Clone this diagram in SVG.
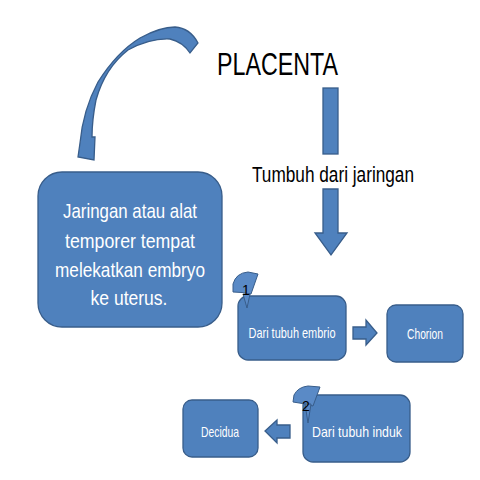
<svg xmlns="http://www.w3.org/2000/svg" width="480" height="480" viewBox="0 0 480 480">
<style>
.shp{fill:#4F81BD;stroke:#385D8A;stroke-width:1.3}
.tab{fill:#5A8AC6;stroke:#385D8A;stroke-width:1}
.wt{fill:#ffffff;font-family:"Liberation Sans",Arial,sans-serif;text-anchor:middle}
.bk{fill:#000000;font-family:"Liberation Sans",Arial,sans-serif}
</style>
<rect width="480" height="480" fill="#ffffff"/>
<g id="title">
<text class="bk" x="217" y="75" font-size="32" textLength="121" lengthAdjust="spacingAndGlyphs">PLACENTA</text>
</g>
<g id="label-tumbuh">
<text class="bk" x="252" y="182" font-size="22" textLength="162" lengthAdjust="spacingAndGlyphs">Tumbuh dari jaringan</text>
</g>
<g id="definition">
<rect class="shp" x="38" y="172" width="184" height="155" rx="24"/>
<text class="wt" x="130" y="218" font-size="21" textLength="134" lengthAdjust="spacingAndGlyphs">Jaringan atau alat</text>
<text class="wt" x="130" y="248" font-size="21" textLength="130" lengthAdjust="spacingAndGlyphs">temporer tempat</text>
<text class="wt" x="130" y="277" font-size="21" textLength="150" lengthAdjust="spacingAndGlyphs">melekatkan embryo</text>
<text class="wt" x="129" y="305" font-size="21" textLength="77" lengthAdjust="spacingAndGlyphs">ke uterus.</text>
</g>
<g id="embrio">
<rect class="shp" x="238" y="296" width="108" height="64" rx="10"/>
<text class="wt" x="292" y="338" font-size="15" textLength="87" lengthAdjust="spacingAndGlyphs">Dari tubuh embrio</text>
<path class="tab" d="M233,292 L233,284 Q236,273 248,272 L258,274 L251,294 Q242,292 233,292 Z"/>
<path class="tab" d="M243,294 L247,308 L250,294 Z"/>
<text fill="#000" font-family="Liberation Sans,Arial,sans-serif" font-size="14" x="242" y="295">1</text>
</g>
<g id="chorion">
<rect class="shp" x="387" y="305" width="76" height="57" rx="9"/>
<text class="wt" x="425" y="339" font-size="15" textLength="36" lengthAdjust="spacingAndGlyphs">Chorion</text>
</g>
<g id="induk">
<rect class="shp" x="303" y="395" width="107" height="67" rx="10"/>
<text class="wt" x="357" y="437" font-size="15" textLength="90" lengthAdjust="spacingAndGlyphs">Dari tubuh induk</text>
<path class="tab" d="M293,402 L294,395 Q298,387 308,386 L320,387 L313,406 Q302,403 293,402 Z"/>
<path class="tab" d="M305,404 L308,423 L311,404 Z"/>
<text fill="#000" font-family="Liberation Sans,Arial,sans-serif" font-size="14" x="302" y="411">2</text>
</g>
<g id="decidua">
<rect class="shp" x="183" y="400" width="75" height="57" rx="9"/>
<text class="wt" x="220" y="437" font-size="15" textLength="38" lengthAdjust="spacingAndGlyphs">Decidua</text>
</g>
<g id="connectors">
<path class="shp" d="M78,157 L80,143 Q83,110 98,82 Q117,52 140,38 Q160,27 175,27 Q190,28 198,43 L190,53 Q183,42 170,39 Q150,38 128,50 Q105,68 96,100 Q92,120 92,137 L95,137 L94,160 Z"/>
<rect class="shp" x="323" y="88" width="15" height="66"/>
<path class="shp" d="M323,189 L338,189 L338,233 L347,233 L331,255 L315,233 L323,233 Z"/>
<path class="shp" d="M353,327 L366,327 L366,320 L377,333 L366,345 L366,339 L353,339 Z"/>
<path class="shp" d="M290,425 L277,425 L277,420 L265,431 L277,443 L277,438 L290,438 Z"/>
</g>
</svg>
